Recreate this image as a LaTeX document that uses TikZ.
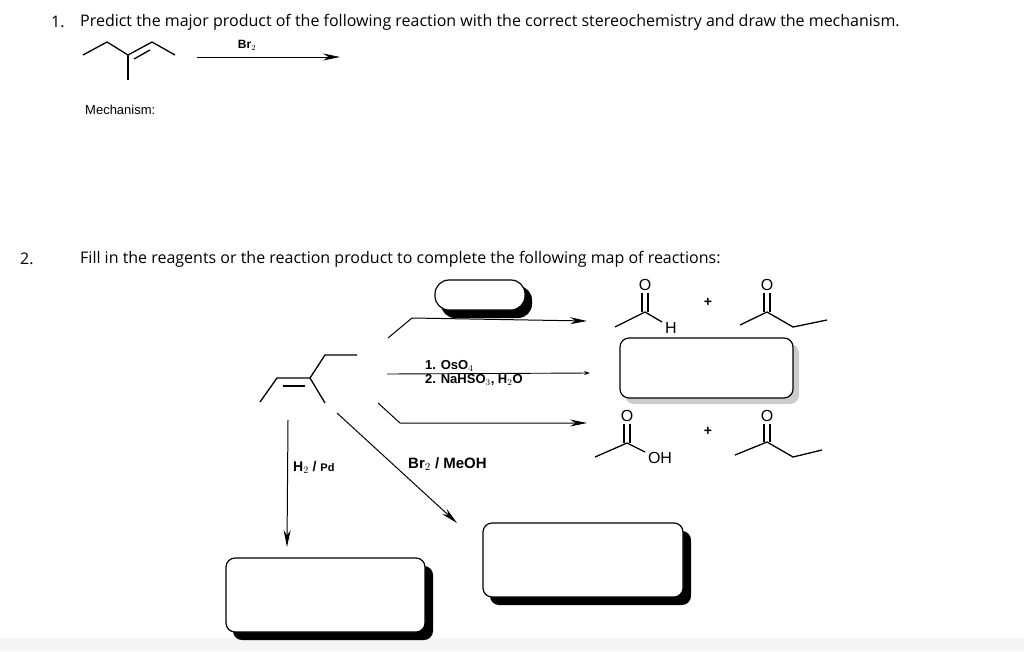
\documentclass[tikz,border=0pt]{standalone}
\usepackage{fontspec}
\setmainfont{Open Sans}
\newfontfamily\arial{Liberation Sans}
\usetikzlibrary{arrows.meta}
\begin{document}
\begin{tikzpicture}[x=1pt,y=-1pt,
  bond/.style={line width=1.3pt},
  rxn/.style={line width=1pt,-{Stealth[length=17pt,width=7pt]}},
  thin/.style={line width=0.9pt,-{Stealth[length=6pt,width=4pt]}},
  lab/.style={font=\arial\bfseries\fontsize{14}{15}\selectfont,inner sep=0pt},
  atom/.style={inner sep=0pt,font=\arial\fontsize{16}{17}\selectfont},
  box/.style={draw,line width=1.2pt,rounded corners=9pt,fill=white},
  txt/.style={inner sep=0pt,anchor=west,font=\fontsize{16}{18}\selectfont}]
\useasboundingbox (0,0) rectangle (1024,651);
\fill[gray!8] (0,638) rectangle (1024,651);
% Question 1
\node[txt] (q1n) at (51,22) {1.};
\node[txt] (q1) at (80,22) {Predict the major product of the following reaction with the correct stereochemistry and draw the mechanism.};
\draw[bond] (83,55)--(107,42)--(128,55)--(152,42)--(175,55);
\draw[bond] (128,55)--(128,80);
\draw[bond] (134,59)--(150,50);
\coordinate (a1s) at (197,57); \coordinate (a1e) at (340,57);
\draw[rxn] (a1s)--(a1e);
\node[lab,font=\arial\bfseries\fontsize{12}{13}\selectfont] (br2) at (247,45) {Br$_2$};
\node[txt,font=\arial\fontsize{13}{15}\selectfont] (mech) at (85,110) {Mechanism:};
% Question 2
\node[txt] (q2n) at (20,259) {2.};
\node[txt] (q2) at (80,259) {Fill in the reagents or the reaction product to complete the following map of reactions:};
% alkene
\draw[bond] (260,402)--(277,378)--(310,378)--(325,355)--(357,355);
\draw[bond] (310,378)--(325,403);
\draw[bond] (283,386)--(305,386);
% pill
\fill[rounded corners=14pt] (441,286) rectangle (532,318);
\node[draw,line width=1.2pt,fill=white,rounded corners=14pt,minimum width=90pt,minimum height=30pt,inner sep=0pt] (pill) at (480,295) {};
% arrows
\coordinate (t0) at (388,338); \coordinate (t1) at (412,318); \coordinate (t2) at (587,321);
\draw[rxn] (t0)--(t1)--(t2);
\coordinate (m0) at (387,374); \coordinate (m1) at (590,373);
\draw[thin] (m0)--(m1);
\node[lab,anchor=west,font=\arial\bfseries\fontsize{13}{14}\selectfont] (os) at (425,366) {1. OsO$_4$};
\node[lab,anchor=west,font=\arial\bfseries\fontsize{13}{14}\selectfont] (na) at (425,380) {2. NaHSO$_3$, H$_2$O};
\coordinate (b0) at (378,403); \coordinate (b1) at (400,423); \coordinate (b2) at (587,423);
\draw[rxn] (b0)--(b1)--(b2);
\coordinate (d0) at (337,413); \coordinate (d1) at (457,523);
\draw[rxn] (d0)--(d1);
\coordinate (v0) at (288,420); \coordinate (v1) at (287,547);
\draw[rxn] (v0)--(v1);
\node[lab,anchor=west] (h2) at (293,467) {H$_2$ / {\fontsize{11}{12}\selectfont Pd}};
\node[lab,anchor=west,font=\arial\bfseries\fontsize{15}{16}\selectfont] (brm) at (408,464) {Br$_2$ / MeOH};
% boxes
\fill[rounded corners=9pt] (233,566) rectangle (433,640);
\draw[box] (226,558) rectangle (425,632);
\node (boxL) at (325,595) {};
\fill[rounded corners=9pt] (490,531) rectangle (691,605);
\draw[box] (483,523) rectangle (683,597);
\node (boxR) at (583,560) {};
\fill[gray!40,rounded corners=9pt] (625,344) rectangle (799,404);
\draw[box] (620,338) rectangle (793,398);
\node (boxM) at (706,368) {};
% aldehyde
\draw[bond] (615,327)--(645,312)--(662,322);
\draw[bond] (642,312)--(642,293); \draw[bond] (648,312)--(648,293);
\node[atom] (o1) at (645,285) {O};
\node[atom] (h1) at (671,328) {H};
\node[lab] (p1) at (708,302) {+};
\draw[bond] (740,325)--(767,312)--(793,327)--(827,320);
\draw[bond] (764,312)--(764,293); \draw[bond] (770,312)--(770,293);
\node[atom] (o2) at (767,285) {O};
% acid
\draw[bond] (595,457)--(627,443)--(645,452);
\draw[bond] (624,443)--(624,424); \draw[bond] (630,443)--(630,424);
\node[atom] (o3) at (627,416) {O};
\node[atom] (oh) at (660,458) {OH};
\node[lab] (p2) at (708,431) {+};
\draw[bond] (735,455)--(767,442)--(793,457)--(822,450);
\draw[bond] (764,442)--(764,424); \draw[bond] (770,442)--(770,424);
\node[atom] (o4) at (767,416) {O};
\end{tikzpicture}
\end{document}
